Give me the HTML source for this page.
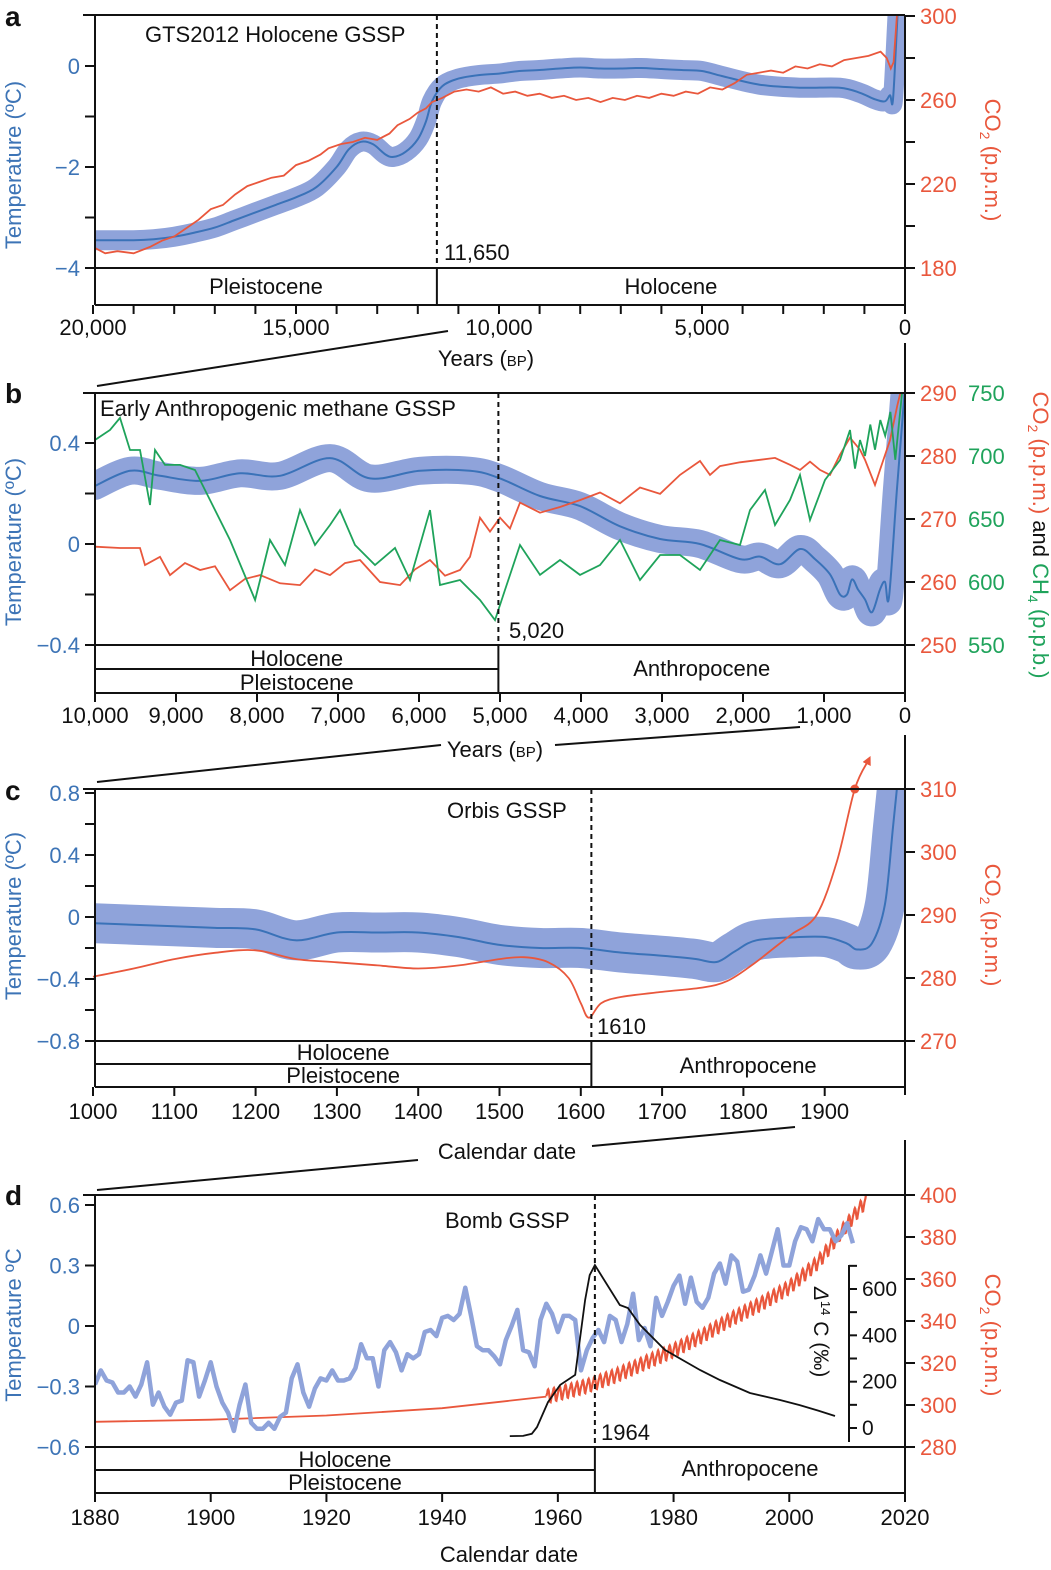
<!DOCTYPE html>
<html><head><meta charset="utf-8"><title>Anthropocene GSSP candidates</title>
<style>
html,body{margin:0;padding:0;background:#fff;}
svg{display:block;font-family:"Liberation Sans",Arial,sans-serif;}
</style></head>
<body>
<svg id="chart" width="1051" height="1570" viewBox="0 0 1051 1570" xmlns="http://www.w3.org/2000/svg">
<defs>
<clipPath id="clipA"><rect x="95" y="15" width="810" height="253"/></clipPath>
<clipPath id="clipB"><rect x="95" y="393" width="810" height="252"/></clipPath>
<clipPath id="clipC"><rect x="95" y="789" width="810" height="252"/></clipPath>
<clipPath id="clipD"><rect x="95" y="1195" width="810" height="252"/></clipPath>
<marker id="arrowRed" viewBox="0 0 10 10" refX="5" refY="5" markerWidth="5" markerHeight="5" orient="auto"><path d="M0,0L10,5L0,10z" fill="#e9573c"/></marker>
</defs>
</svg>
<script>
// ---------- Panel a data ----------
const aTempYears=[20000,19500,19000,18500,18000,17500,17000,16500,16000,15500,15000,14500,14000,13700,13400,13100,12800,12600,12300,12000,11800,11650,11400,11000,10500,10000,9500,9000,8500,8000,7500,7000,6500,6000,5500,5000,4500,3580,2594,1605,1111,741,494,370,297,198,124,60];
const aTemp=[-3.45,-3.45,-3.45,-3.43,-3.38,-3.3,-3.2,-3.05,-2.9,-2.75,-2.6,-2.4,-2.0,-1.65,-1.5,-1.55,-1.75,-1.8,-1.7,-1.45,-1.1,-0.7,-0.4,-0.25,-0.18,-0.15,-0.1,-0.08,-0.05,-0.03,-0.05,-0.05,-0.04,-0.06,-0.08,-0.1,-0.2,-0.37,-0.43,-0.43,-0.53,-0.66,-0.7,-0.58,-0.68,0.8,2.0,3.0];
const aCO2Years=[20000,19700,19400,19000,18600,18300,18000,17700,17400,17100,16800,16500,16200,15900,15600,15300,15000,14700,14400,14200,13900,13600,13300,13000,12700,12500,12200,12000,11800,11650,11400,11100,10800,10500,10200,9900,9600,9300,9000,8700,8400,8100,7800,7500,7200,6900,6600,6300,6000,5700,5400,5100,4800,4500,4200,3900,3600,3300,3000,2700,2400,2100,1800,1500,1200,900,600,450,350,280,200,120];
const aCO2=[190,187,188,187,190,193,195,199,203,208,210,215,219,221,223,224,229,231,234,237,239,240,242,241,244,248,251,254,256,259,261,264,265,264,266,263,264,262,263,261,262,260,261,259,261,260,262,261,263,262,264,263,266,265,268,272,273,274,273,276,275,277,276,279,280,281,283,280,275,278,300,320];
const aTempTicks=[0,-1,-2,-3,-4];
const aTempLabels=["0","","\u22122","","\u22124"];
const aCO2Ticks=[300,280,260,240,220,200,180];
const aCO2Labels=["300","","260","","220","","180"];
const aXTicks=[20000,19000,18000,17000,16000,15000,14000,13000,12000,11000,10000,9000,8000,7000,6000,5000,4000,3000,2000,1000,0];
const aXLabels={20000:"20,000",15000:"15,000",10000:"10,000",5000:"5,000",0:"0"};
const aBoundary=11530;

// ---------- Panel b data ----------
const bTempYears=[10000,9568,9197,8703,8209,7716,7099,6605,5988,5370,5000,4506,4012,3518,3024,2531,2037,1790,1543,1296,1111,926,802,716,654,580,494,407,309,247,198,99,0];
const bTemp=[0.23,0.29,0.27,0.25,0.28,0.27,0.34,0.26,0.29,0.29,0.26,0.19,0.15,0.07,0.02,0.0,-0.06,-0.05,-0.08,-0.02,-0.06,-0.12,-0.2,-0.2,-0.14,-0.18,-0.22,-0.27,-0.18,-0.15,-0.21,0.22,0.62];
const bCO2Years=[10000,9691,9444,9383,9197,9074,8889,8703,8518,8333,8148,7962,7716,7469,7284,7099,6913,6728,6481,6233,6049,5864,5679,5494,5370,5247,5123,5000,4876,4753,4506,4259,4012,3765,3518,3271,3024,2778,2531,2407,2284,2037,1790,1605,1420,1296,1173,1049,926,802,679,555,494,370,309,185,95,20];
const bCO2=[265.6,265.4,265.4,262.7,264,261.1,263,261.9,262.5,258.7,260.5,261.1,259.8,259.5,262,261.1,263,263.5,260,259.5,262,263.5,261,261.9,264,270.2,268,270.2,268.5,272.6,271,271.9,273,274.2,272.5,275,274,277,279.2,277,278.4,279,279.4,279.7,278.6,277.8,279.1,277.8,277,280.2,282.9,281,279.4,275.4,277.8,282.5,288,292];
const bCH4Years=[10000,9815,9691,9568,9444,9321,9259,9136,8951,8765,8580,8333,8024,7839,7654,7469,7284,7099,6975,6790,6543,6296,6111,5864,5741,5494,5247,5062,4938,4753,4506,4259,4012,3765,3518,3271,3024,2778,2531,2284,2037,1914,1728,1605,1420,1296,1173,988,802,679,617,555,494,429,370,305,244,180,120,33];
const bCH4=[712.7,720.6,730.2,704.8,704.8,661.1,704.8,692.9,692.9,688.9,665.1,633.3,585.7,633.3,613.5,657.1,629.4,645.2,657.1,629.4,613.5,627,601.6,657.1,597.6,601.6,585.7,569.8,593.7,629.4,605.6,617.5,605.6,613.5,633.3,601.6,621.4,621.4,609.5,633.3,629.4,657.1,673,645.2,665.1,684.9,649.2,681,696.8,720.6,690,712.7,700,725,705,728.6,716,735,697,752];
const bTempTicks=[0.4,0.2,0,-0.2,-0.4];
const bTempLabels=["0.4","","0","","\u22120.4"];
const bCO2Ticks=[290,280,270,260,250];
const bCH4Labels=["750","700","650","600","550"];
const bXTicks=[10000,9000,8000,7000,6000,5000,4000,3000,2000,1000,0];
const bXLabels=["10,000","9,000","8,000","7,000","6,000","5,000","4,000","3,000","2,000","1,000","0"];
const bBoundary=5020;

// ---------- Panel c data ----------
const cTempYears=[1000,1100,1150,1200,1249,1300,1350,1400,1450,1500,1550,1600,1650,1700,1740,1767,1790,1816,1866,1902,1927,1940,1958,1974,1984,1994];
const cTemp=[-0.04,-0.06,-0.07,-0.08,-0.15,-0.1,-0.1,-0.1,-0.13,-0.18,-0.2,-0.2,-0.23,-0.25,-0.27,-0.29,-0.22,-0.15,-0.13,-0.13,-0.17,-0.21,-0.17,0.08,0.58,1.1];
const cCO2Years=[1000,1050,1100,1150,1200,1250,1300,1350,1400,1450,1500,1530,1560,1585,1600,1610,1625,1650,1700,1750,1780,1810,1840,1860,1890,1915,1937,1954];
const cCO2=[280.2,281.5,283,284,284.4,283,282.5,282,281.5,282,283,283.3,282.5,280,276,273.7,276,277,277.8,278.5,279.5,282,285,287,290,298.5,310,314.6];
const cTempTicks=[0.8,0.6,0.4,0.2,0,-0.2,-0.4,-0.6,-0.8];
const cTempLabels=["0.8","","0.4","","0","","\u22120.4","","\u22120.8"];
const cCO2Ticks=[310,300,290,280,270];
const cXTicks=[1000,1100,1200,1300,1400,1500,1600,1700,1800,1900];
const cBoundary=1613;

// ---------- Panel d data ----------
const dTempYears=[1880,1881,1882,1883,1884,1885,1886,1887,1888,1889,1890,1891,1892,1893,1894,1895,1896,1897,1898,1899,1900,1901,1902,1903,1904,1905,1906,1907,1908,1909,1910,1911,1912,1913,1914,1915,1916,1917,1918,1919,1920,1921,1922,1923,1924,1925,1926,1927,1928,1929,1930,1931,1932,1933,1934,1935,1936,1937,1938,1939,1940,1941,1942,1943,1944,1945,1946,1947,1948,1949,1950,1951,1952,1953,1954,1955,1956,1957,1958,1959,1960,1961,1962,1963,1964,1965,1966,1967,1968,1969,1970,1971,1972,1973,1974,1975,1976,1977,1978,1979,1980,1981,1982,1983,1984,1985,1986,1987,1988,1989,1990,1991,1992,1993,1994,1995,1996,1997,1998,1999,2000,2001,2002,2003,2004,2005,2006,2007,2008,2009,2010,2011];
const dTemp=[-0.29,-0.22,-0.27,-0.28,-0.33,-0.33,-0.3,-0.35,-0.29,-0.18,-0.39,-0.33,-0.4,-0.44,-0.38,-0.37,-0.17,-0.18,-0.35,-0.27,-0.18,-0.3,-0.38,-0.43,-0.52,-0.39,-0.29,-0.48,-0.51,-0.51,-0.48,-0.51,-0.45,-0.43,-0.26,-0.19,-0.33,-0.4,-0.31,-0.26,-0.27,-0.22,-0.27,-0.27,-0.26,-0.21,-0.09,-0.16,-0.16,-0.3,-0.12,-0.08,-0.13,-0.22,-0.14,-0.16,-0.14,-0.03,-0.02,-0.05,0.04,0.05,0.03,0.06,0.19,0.05,-0.1,-0.12,-0.12,-0.15,-0.19,-0.07,0.0,0.08,-0.12,-0.13,-0.2,0.03,0.11,0.06,-0.03,0.05,0.05,0.03,-0.22,-0.12,-0.06,-0.02,-0.08,0.05,0.03,-0.08,0.01,0.16,-0.07,-0.01,-0.1,0.14,0.05,0.12,0.2,0.25,0.11,0.24,0.12,0.09,0.14,0.26,0.31,0.21,0.35,0.32,0.17,0.18,0.25,0.35,0.26,0.37,0.48,0.3,0.3,0.42,0.49,0.48,0.42,0.53,0.48,0.48,0.42,0.45,0.51,0.41];
const dIceYears=[1880,1900,1920,1940,1950,1958];
const dIceCO2=[292,293,295,298.5,301.5,304];
const dMLYears=[1958,1965,1970,1975,1980,1985,1990,1995,2000,2005,2010,2013.5];
const dMLCO2=[304,309,314,320,326,333,341,348,356,368,386,398];
const dSeasonal=[0.3,1.0,1.7,2.9,3.2,2.5,0.9,-1.2,-3.0,-3.2,-2.0,-0.9];
const dC14Years=[1951.7,1954,1955.5,1956.4,1958.3,1960.4,1963,1964.7,1965.5,1966.4,1967.8,1970.7,1972.1,1974.2,1978.5,1984.6,1988,1993.2,1998.4,2001.8,2005,2007.9];
const dC14=[-35,-34,-25,4,112,186,229,552,660,703,647,531,518,445,337,250,207,151,121,99,75,52];
const dTempTicks=[0.6,0.3,0,-0.3,-0.6];
const dTempLabels=["0.6","0.3","0","\u22120.3","\u22120.6"];
const dCO2Ticks=[400,380,360,340,320,300,280];
const dC14Ticks=[0,100,200,300,400,500,600,700];
const dC14Labels=["0","","200","","400","","600",""];
const dXTicks=[1880,1900,1920,1940,1960,1980,2000,2020];
const dBoundary=1966.4;

// ---------- helpers ----------
const NS='http://www.w3.org/2000/svg';
const svg=document.getElementById('chart');
const BLUE='#3a72b8', BAND='#8fa3da', RED='#e9573c', GREEN='#1fa35b', TBLUE='#3d74b6';
const FS=22;
function mk(tag,attrs,parent){const e=document.createElementNS(NS,tag);for(const k in attrs)e.setAttribute(k,attrs[k]);(parent||svg).appendChild(e);return e;}
function lin(d0,d1,r0,r1){return v=>r0+(v-d0)*(r1-r0)/(d1-d0);}
function pathLin(xs,ys,sx,sy){return xs.map((v,i)=>(i?'L':'M')+sx(v).toFixed(1)+','+sy(ys[i]).toFixed(1)).join('');}
function pathSmooth(xs,ys,sx,sy){const p=xs.map((v,i)=>[sx(v),sy(ys[i])]);let d='M'+p[0][0].toFixed(1)+','+p[0][1].toFixed(1);for(let i=0;i<p.length-1;i++){const p0=p[i-1]||p[i],p1=p[i],p2=p[i+1],p3=p[i+2]||p2;const c1=[p1[0]+(p2[0]-p0[0])/6,p1[1]+(p2[1]-p0[1])/6],c2=[p2[0]-(p3[0]-p1[0])/6,p2[1]-(p3[1]-p1[1])/6];d+='C'+c1[0].toFixed(1)+','+c1[1].toFixed(1)+' '+c2[0].toFixed(1)+','+c2[1].toFixed(1)+' '+p2[0].toFixed(1)+','+p2[1].toFixed(1);}return d;}
function txt(x,y,s,attrs,parent){const t=mk('text',Object.assign({x:x,y:y,'font-size':FS},attrs||{}),parent);t.textContent=s;return t;}
function ln(x1,y1,x2,y2,parent,extra){return mk('line',Object.assign({x1:x1,y1:y1,x2:x2,y2:y2,stroke:'#111','stroke-width':2},extra||{}),parent);}

function frame(g,top,bandTop,bottom,splitX,twoRows){
  let e;
  e=ln(83,top,905,top,g); 
  e=ln(95,top,95,bottom,g); 
  e=ln(905,top,905,bottom+8,g); 
  e=ln(95,bandTop,905,bandTop,g); 
  e=ln(95,bottom,905,bottom,g); 
  if(twoRows){e=ln(95,(bandTop+bottom)/2,splitX,(bandTop+bottom)/2,g); }
  e=ln(splitX,bandTop,splitX,bottom,g); 
  e=ln(splitX,top,splitX,bandTop,g,{'stroke-width':2,'stroke-dasharray':'5,4'}); 
}
function leftTicks(g,ticks,labels,sy,color){
  ticks.forEach((v,i)=>{const y=sy(v);const t=ln(85,y,95,y,g);
    if(labels[i]){const l=txt(80,y+8,labels[i],{'text-anchor':'end',fill:color},g);}});
}
function rightTicks(g,ticks,labels,sy,color,x){
  ticks.forEach((v,i)=>{const y=sy(v);const t=ln(905,y,915,y,g);
    if(labels[i]){const l=txt(x||920,y+8,labels[i],{fill:color},g);}});
}
function xTicks(g,ticks,labels,sx,y,ly){
  ticks.forEach((v,i)=>{const x=sx(v);const t=ln(x,y,x,y+9,g);
    const s=labels(v,i);if(s){const l=txt(x,ly,s,{'text-anchor':'middle',fill:'#111'},g);}});
}
function panelLetter(ch,y){const t=txt(5,y,ch,{'font-size':28,'font-weight':'bold',fill:'#111'});}
function vLabelLeft(g,cy,str){const t=txt(0,0,str,{'text-anchor':'middle',fill:TBLUE,transform:'translate(21,'+cy+') rotate(-90)'},g);return t;}
function co2Label(g,x,cy){const t=mk('text',{'font-size':FS,fill:RED,'text-anchor':'middle',transform:'translate('+x+','+cy+') rotate(90)'},g);
  
  const a=mk('tspan',{},t);a.textContent='CO';const b=mk('tspan',{'font-size':14,dy:5},t);b.textContent='2';const c=mk('tspan',{dy:-5},t);c.textContent=' (p.p.m.)';return t;}

// ---------- Panel a ----------
(function(){
  const g=mk('g',{});
  const sx=lin(20000,0,93,905), sy=lin(0,-4,66,268), sc=lin(300,180,16,268);
  const bx=sx(aBoundary);
  panelLetter('a',26);
  const cg=mk('g',{'clip-path':'url(#clipA)'},g);
  let p=mk('path',{d:pathSmooth(aTempYears,aTemp,sx,sy),fill:'none',stroke:BAND,'stroke-width':20,'stroke-linejoin':'round','stroke-linecap':'round'},cg);
  p=mk('path',{d:pathSmooth(aTempYears,aTemp,sx,sy),fill:'none',stroke:BLUE,'stroke-width':2},cg);
  p=mk('path',{d:pathLin(aCO2Years,aCO2,sx,sc),fill:'none',stroke:RED,'stroke-width':1.8},cg);
  frame(g,15,268,305,bx,false);
  leftTicks(g,aTempTicks,aTempLabels,sy,TBLUE);
  rightTicks(g,aCO2Ticks,aCO2Labels,sc,RED);
  xTicks(g,aXTicks,v=>aXLabels[v]||'',sx,305,335);
  let t=txt(145,42,'GTS2012 Holocene GSSP',{fill:'#111'},g);
  t=txt(444,260,'11,650',{fill:'#111'},g);
  t=txt((95+bx)/2,294,'Pleistocene',{'text-anchor':'middle',fill:'#111'},g);
  t=txt((bx+905)/2,294,'Holocene',{'text-anchor':'middle',fill:'#111'},g);
  t=txt(486,366,'Years (',{'text-anchor':'middle',fill:'#111'},g);
  const s1=mk('tspan',{'font-size':15},t);s1.textContent='BP';const s2=mk('tspan',{},t);s2.textContent=')';
  vLabelLeft(g,165,'Temperature (ºC)');
  co2Label(g,985,160);
})();
// connector a->b
(function(){let e=ln(97,386,448,331);e=ln(905,343,905,393);})();

// ---------- Panel b ----------
(function(){
  const g=mk('g',{});
  const sx=lin(10000,0,95,905), sy=lin(0,-0.4,544,645), sc=lin(290,250,393,645), sm=lin(750,550,393,645);
  const bx=sx(bBoundary);
  panelLetter('b',403);
  const cg=mk('g',{'clip-path':'url(#clipB)'},g);
  let p=mk('path',{d:pathSmooth(bTempYears,bTemp,sx,sy),fill:'none',stroke:BAND,'stroke-width':28,'stroke-linejoin':'round','stroke-linecap':'round'},cg);
  p=mk('path',{d:pathSmooth(bTempYears,bTemp,sx,sy),fill:'none',stroke:BLUE,'stroke-width':2},cg);
  p=mk('path',{d:pathLin(bCO2Years,bCO2,sx,sc),fill:'none',stroke:RED,'stroke-width':1.8},cg);
  p=mk('path',{d:pathLin(bCH4Years,bCH4,sx,sm),fill:'none',stroke:GREEN,'stroke-width':1.8},cg);
  frame(g,393,645,693,bx,true);
  leftTicks(g,bTempTicks,bTempLabels,sy,TBLUE);
  rightTicks(g,bCO2Ticks,bCO2Ticks.map(String),sc,RED);
  bCH4Labels.forEach((s,i)=>{const l=txt(968,sc(bCO2Ticks[i])+8,s,{fill:GREEN},g);});
  xTicks(g,bXTicks,(v,i)=>bXLabels[i],sx,693,723);
  let t=txt(100,416,'Early Anthropogenic methane GSSP',{fill:'#111'},g);
  t=txt(509,638,'5,020',{fill:'#111'},g);
  t=txt((95+bx)/2,666,'Holocene',{'text-anchor':'middle',fill:'#111'},g);
  t=txt((95+bx)/2,690,'Pleistocene',{'text-anchor':'middle',fill:'#111'},g);
  t=txt((bx+905)/2,676,'Anthropocene',{'text-anchor':'middle',fill:'#111'},g);
  t=txt(495,757,'Years (',{'text-anchor':'middle',fill:'#111'},g);
  const s1=mk('tspan',{'font-size':15},t);s1.textContent='BP';const s2=mk('tspan',{},t);s2.textContent=')';
  vLabelLeft(g,542,'Temperature (ºC)');
  const r=mk('text',{'font-size':FS,'text-anchor':'middle',transform:'translate(1033,535) rotate(90)'},g);
  const parts=[['CO',RED,0],['2',RED,1],[' (p.p.m.) ',RED,2],['and ','#111',0],['CH',GREEN,0],['4',GREEN,1],[' (p.p.b.)',GREEN,2]];
  parts.forEach(pt=>{const a={fill:pt[1]};if(pt[2]===1){a['font-size']=14;a.dy=5;}if(pt[2]===2){a.dy=-5;}const s=mk('tspan',a,r);s.textContent=pt[0];});
})();
// connector b->c
(function(){let e=ln(97,782,441,745);e=ln(555,745,800,727);e=ln(905,735,905,789);})();

// ---------- Panel c ----------
(function(){
  const g=mk('g',{});
  const sx=lin(1000,2000,93,906), sy=lin(0,-0.4,917,979), sc=lin(310,270,789,1041);
  const bx=sx(cBoundary);
  panelLetter('c',800);
  const cg=mk('g',{'clip-path':'url(#clipC)'},g);
  let p=mk('path',{d:pathSmooth(cTempYears,cTemp,sx,sy),fill:'none',stroke:BAND,'stroke-width':40,'stroke-linejoin':'round','stroke-linecap':'butt'},cg);
  p=mk('path',{d:pathSmooth(cTempYears,cTemp,sx,sy),fill:'none',stroke:BLUE,'stroke-width':2},cg);
  p=mk('path',{d:pathSmooth(cCO2Years,cCO2,sx,sc),fill:'none',stroke:RED,'stroke-width':1.8,'marker-end':'url(#arrowRed)'},g);
  const di=cCO2Years.indexOf(1937);
  const dot=mk('circle',{cx:sx(cCO2Years[di]),cy:sc(cCO2[di]),r:4.5,fill:RED},g);
  frame(g,789,1041,1087,bx,true);
  leftTicks(g,cTempTicks,cTempLabels,sy,TBLUE);
  rightTicks(g,cCO2Ticks,cCO2Ticks.map(String),sc,RED);
  xTicks(g,cXTicks,v=>String(v),sx,1087,1119);
  let t=txt(447,818,'Orbis GSSP',{fill:'#111'},g);
  t=txt(597,1034,'1610',{fill:'#111'},g);
  t=txt((95+bx)/2,1060,'Holocene',{'text-anchor':'middle',fill:'#111'},g);
  t=txt((95+bx)/2,1083,'Pleistocene',{'text-anchor':'middle',fill:'#111'},g);
  t=txt((bx+905)/2,1073,'Anthropocene',{'text-anchor':'middle',fill:'#111'},g);
  t=txt(507,1159,'Calendar date',{'text-anchor':'middle',fill:'#111'},g);
  vLabelLeft(g,916,'Temperature (ºC)');
  co2Label(g,985,925);
})();
// connector c->d
(function(){let e=ln(97,1190,418,1160);e=ln(592,1146,795,1127);e=ln(905,1140,905,1195);})();

// ---------- Panel d ----------
(function(){
  const g=mk('g',{});
  const sx=lin(1880,2020,95,905), sy=lin(0.6,-0.6,1205,1447), sc=lin(400,280,1195,1447), sr=lin(0,600,1428,1289);
  const bx=sx(dBoundary);
  panelLetter('d',1205);
  const cg=mk('g',{'clip-path':'url(#clipD)'},g);
  let p=mk('path',{d:pathLin(dIceYears,dIceCO2,sx,sc),fill:'none',stroke:RED,'stroke-width':1.8},cg);
  const mY=[],mV=[];
  for(let i=0;i<dMLYears.length-1;i++){const y0=dMLYears[i],y1=dMLYears[i+1];for(let m=0;m<(y1-y0)*12;m++){const yr=y0+m/12;const base=dMLCO2[i]+(dMLCO2[i+1]-dMLCO2[i])*(yr-y0)/(y1-y0);mY.push(yr);mV.push(base+dSeasonal[m%12]);}}
  p=mk('path',{d:pathLin(mY,mV,sx,sc),fill:'none',stroke:RED,'stroke-width':2.2},cg);
  p=mk('path',{d:pathLin(dTempYears,dTemp,sx,sy),fill:'none',stroke:BAND,'stroke-width':4.5,'stroke-linejoin':'round'},cg);
  p=mk('path',{d:pathLin(dC14Years,dC14,sx,sr),fill:'none',stroke:'#111','stroke-width':1.8},cg);
  frame(g,1195,1447,1493,bx,true);
  leftTicks(g,dTempTicks,dTempLabels,sy,TBLUE);
  rightTicks(g,dCO2Ticks,dCO2Ticks.map(String),sc,RED);
  xTicks(g,dXTicks,v=>String(v),sx,1493,1525);
  let e=ln(849,1265,849,1442,g);
  dC14Ticks.forEach((v,i)=>{const y=sr(v);const t=ln(849,y,857,y,g);
    if(dC14Labels[i]){const l=txt(862,y+7,dC14Labels[i],{fill:'#111','font-size':21},g);}});
  const r=mk('text',{'font-size':21,fill:'#111','text-anchor':'middle',transform:'translate(814,1332) rotate(90)'},g);
  const r1=mk('tspan',{'font-style':'italic'},r);r1.textContent='Δ';const r2=mk('tspan',{'font-size':13,dy:-7},r);r2.textContent='14';const r3=mk('tspan',{dy:7},r);r3.textContent=' C (‰)';
  let t=txt(445,1228,'Bomb GSSP',{fill:'#111'},g);
  t=txt(601,1440,'1964',{fill:'#111'},g);
  t=txt((95+bx)/2,1467,'Holocene',{'text-anchor':'middle',fill:'#111'},g);
  t=txt((95+bx)/2,1490,'Pleistocene',{'text-anchor':'middle',fill:'#111'},g);
  t=txt((bx+905)/2,1476,'Anthropocene',{'text-anchor':'middle',fill:'#111'},g);
  t=txt(509,1562,'Calendar date',{'text-anchor':'middle',fill:'#111'},g);
  vLabelLeft(g,1325,'Temperature ºC');
  co2Label(g,985,1335);
})();
</script>
</body></html>
